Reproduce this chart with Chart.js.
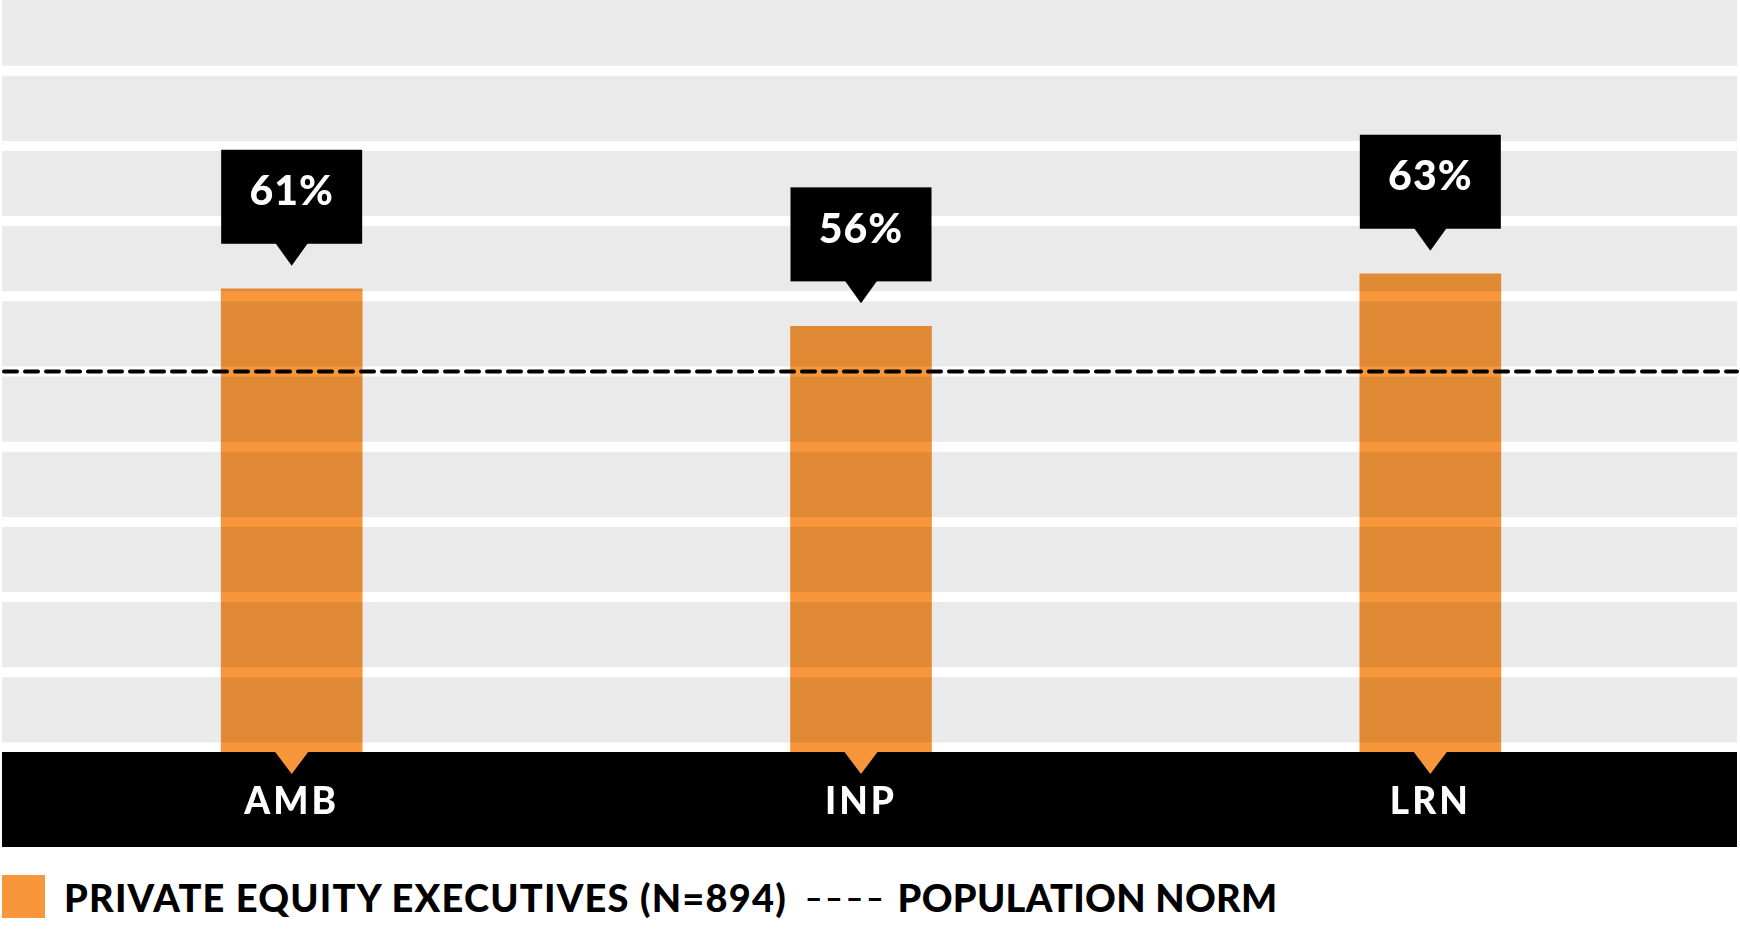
<!DOCTYPE html>
<html lang="en">
<head>
    <meta charset="UTF-8">
    <title>Private Equity Executives vs Population Norm</title>
    <script src="https://cdn.jsdelivr.net/npm/chart.js"></script>
    <style>
        body {
            margin: 0;
            background: #ffffff;
        }
        #wrap {
            position: relative;
            width: 1740px;
            height: 929px;
        }
        #chartBox {
            position: absolute;
            left: 0;
            top: 0;
            width: 1740px;
            height: 847px;
        }
        #legend {
            position: absolute;
            left: 2px;
            top: 875px;
            height: 43px;
            display: flex;
            align-items: center;
            font-family: Lato, "Open Sans", sans-serif;
            font-weight: 900;
            font-size: 38px;
            letter-spacing: 1.2px;
            color: #000;
            white-space: nowrap;
        }
        #legend .swatch {
            width: 43px;
            height: 43px;
            background: #f7963a;
            margin-right: 19px;
        }
        #legend .dashes {
            font-size: 30px;
            letter-spacing: 3px;
            margin-left: 18px;
            margin-right: 11px;
        }
        #legend .norm {
            letter-spacing: 0.3px;
        }
    </style>
</head>
<body>
    <div id="wrap">
        <div id="chartBox">
            <canvas id="peChart"></canvas>
        </div>
        <div id="legend">
            <span class="swatch"></span>
            <span>PRIVATE EQUITY EXECUTIVES (N=894)</span>
            <span class="dashes">––––</span>
            <span class="norm">POPULATION NORM</span>
        </div>
    </div>
    <script>
        const categories = ['AMB', 'INP', 'LRN'];
        const peValues = [61, 56, 63];
        const populationNorm = 50;
        const gridTicks = [0, 10, 20, 30, 40, 50, 60, 70, 80, 90];

        const ORANGE = '#f7963a';
        const BAND_GRAY = '#e9eae9';
        const LEFT_EDGE = 2, RIGHT_EDGE = 1737;
        const LABEL_FONT = 'Lato, "Open Sans", sans-serif';

        // gray bands + white grid lines + black axis strip
        const backdrop = {
            id: 'backdrop',
            beforeDraw(chart) {
                const { ctx, chartArea, scales } = chart;
                ctx.save();
                ctx.fillStyle = BAND_GRAY;
                ctx.fillRect(LEFT_EDGE, chartArea.top, RIGHT_EDGE - LEFT_EDGE, chartArea.bottom - chartArea.top);
                ctx.strokeStyle = '#ffffff';
                ctx.lineWidth = 10;
                scales.y.ticks.forEach(t => {
                    const py = scales.y.getPixelForValue(t.value);
                    ctx.beginPath();
                    ctx.moveTo(LEFT_EDGE, py);
                    ctx.lineTo(RIGHT_EDGE, py);
                    ctx.stroke();
                });
                ctx.fillStyle = '#000000';
                ctx.fillRect(LEFT_EDGE, chartArea.bottom, RIGHT_EDGE - LEFT_EDGE, scales.x.bottom - chartArea.bottom);
                ctx.restore();
                ctx.letterSpacing = '3px';
            },
            beforeDatasetsDraw(chart) {
                chart.ctx.save();
                chart.ctx.globalCompositeOperation = 'multiply';
            },
            afterDatasetsDraw(chart) {
                const { ctx, chartArea, scales } = chart;
                ctx.restore();
                const bars = chart.getDatasetMeta(0).data;

                // orange pointers into the axis strip
                ctx.save();
                ctx.fillStyle = ORANGE;
                bars.forEach(bar => {
                    ctx.beginPath();
                    ctx.moveTo(bar.x - 16.5, chartArea.bottom);
                    ctx.lineTo(bar.x + 16.5, chartArea.bottom);
                    ctx.lineTo(bar.x, chartArea.bottom + 22);
                    ctx.closePath();
                    ctx.fill();
                });
                ctx.restore();

                // population norm line
                const ny = scales.y.getPixelForValue(populationNorm);
                ctx.save();
                ctx.strokeStyle = '#000000';
                ctx.lineWidth = 4;
                ctx.lineCap = 'round';
                ctx.setLineDash([13, 8]);
                ctx.beginPath();
                ctx.moveTo(LEFT_EDGE + 2, ny);
                ctx.lineTo(RIGHT_EDGE, ny);
                ctx.stroke();
                ctx.restore();

                // value callouts
                ctx.save();
                bars.forEach((bar, i) => {
                    const w = bar.width;
                    const bottom = bar.y - 45;
                    const top = bottom - 94;
                    ctx.fillStyle = '#000000';
                    ctx.fillRect(bar.x - w / 2, top, w, 94);
                    ctx.beginPath();
                    ctx.moveTo(bar.x - 16.5, bottom - 1);
                    ctx.lineTo(bar.x + 16.5, bottom - 1);
                    ctx.lineTo(bar.x, bottom + 22);
                    ctx.closePath();
                    ctx.fill();
                    ctx.fillStyle = '#ffffff';
                    ctx.font = '900 41px ' + LABEL_FONT;
                    ctx.letterSpacing = '1px';
                    ctx.textAlign = 'center';
                    ctx.textBaseline = 'middle';
                    ctx.fillText(peValues[i] + '%', bar.x, top + 42);
                });
                ctx.restore();
            }
        };

        new Chart(document.getElementById('peChart'), {
            type: 'bar',
            data: {
                labels: categories,
                datasets: [{
                    label: 'Private Equity Executives (N=894)',
                    data: peValues,
                    backgroundColor: ORANGE,
                    borderWidth: 0,
                    barThickness: 141,
                    base: -0.6
                }]
            },
            options: {
                responsive: true,
                maintainAspectRatio: false,
                animation: false,
                layout: {
                    padding: { left: 7, right: 25, top: 0, bottom: 0 }
                },
                plugins: {
                    legend: { display: false },
                    tooltip: { enabled: false }
                },
                scales: {
                    x: {
                        grid: { display: false, drawTicks: false },
                        border: { display: false },
                        ticks: {
                            color: '#ffffff',
                            padding: 28,
                            font: { family: LABEL_FONT, size: 37, weight: '900' }
                        },
                        afterFit(scale) {
                            scale.height = 95;
                        }
                    },
                    y: {
                        min: -0.6,
                        max: 99.4,
                        grid: { display: false, drawTicks: false },
                        border: { display: false },
                        ticks: { display: false },
                        afterBuildTicks(scale) {
                            scale.ticks = gridTicks.map(v => ({ value: v }));
                        }
                    }
                }
            },
            plugins: [backdrop]
        });
    </script>
</body>
</html>
